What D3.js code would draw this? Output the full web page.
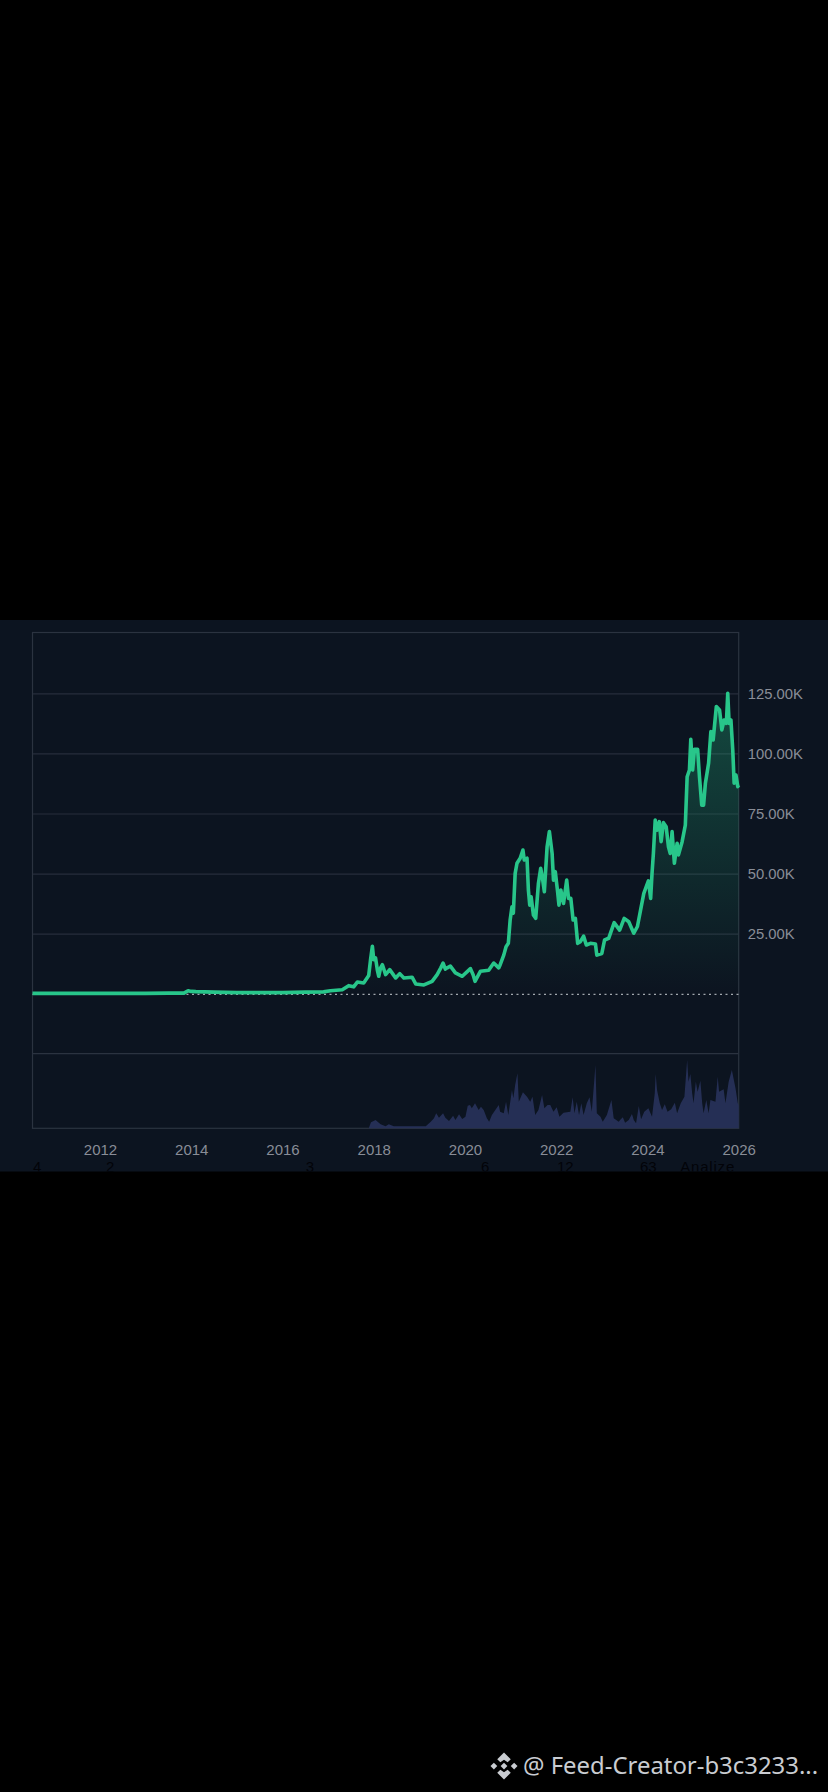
<!DOCTYPE html>
<html>
<head>
<meta charset="utf-8">
<script src="https://cdn.jsdelivr.net/npm/d3@7"></script>
<style>
html,body{margin:0;padding:0;background:#000;overflow:hidden}
svg{display:block}
</style>
</head>
<body>
<script>
const priceYears = [2010.52,2011.0,2011.45,2012.0,2013.0,2013.5,2013.84,2013.93,2014.0,2014.1,2014.5,2015.0,2015.5,2016.0,2016.5,2016.9,
2017.05,2017.31,2017.45,2017.56,2017.64,2017.78,2017.89,2017.93,2017.97,2018.0,2018.04,2018.08,2018.11,2018.15,2018.19,2018.26,2018.35,2018.42,2018.48,2018.57,2018.66,2018.84,2018.92,2019.10,2019.28,2019.39,2019.47,2019.52,2019.57,2019.61,2019.68,2019.79,2019.94,2020.12,2020.18,2020.22,2020.34,2020.52,2020.63,2020.74,
2020.77,2020.85,2020.90,2020.95,2020.99,2021.03,2021.06,2021.10,2021.14,2021.21,2021.27,2021.30,2021.36,2021.39,2021.42,2021.45,2021.50,2021.55,2021.61,2021.66,2021.70,2021.74,2021.80,2021.85,2021.91,2021.94,2021.98,2022.03,2022.06,2022.10,2022.16,2022.23,2022.27,2022.32,2022.37,2022.42,2022.47,2022.53,2022.60,2022.66,2022.75,2022.86,2022.89,2023.0,2023.06,2023.15,2023.27,2023.39,2023.49,2023.59,2023.70,2023.78,2023.85,2023.92,2024.02,2024.07,
2024.10,2024.13,2024.17,2024.21,2024.26,2024.30,2024.35,2024.41,2024.46,2024.50,2024.54,2024.59,2024.65,2024.68,2024.76,2024.83,2024.87,2024.92,2024.95,2024.99,2025.03,2025.10,2025.14,2025.19,2025.23,2025.27,2025.34,2025.39,2025.44,2025.51,2025.58,2025.63,2025.68,2025.73,2025.76,2025.79,2025.83,2025.87,2025.90,2025.94,2025.98,2026.0];
const priceValues = [0.4,0.4,0.4,0.4,0.4,0.5,0.5,1.5,1.2,1.1,0.9,0.7,0.7,0.7,0.9,1.0,
1.5,1.9,3.6,3.1,5.1,4.7,7.8,14.4,20,14.4,15.1,10,7.5,11,12.3,8.2,10.3,8.4,6.8,8.6,6.8,7.1,4.3,3.9,5.4,8.2,11,13,10.5,11,11.7,8.9,7.5,10.7,8,5.4,9.6,10,13,11,
12.2,16.3,19.8,21.2,30.9,36.4,33.7,50.3,54.5,56.6,60,55.9,56.6,43.4,37.1,40.6,33,31.6,46.2,52.4,48.2,42.7,61.4,67.7,58.6,47.5,51,42.7,37.1,43.4,37.8,47.5,39.9,39.9,30.9,31.6,21.2,21.9,24.2,20.5,21.2,20.9,16.3,17,22.6,23.3,29.8,26.7,31.6,30.2,25.4,28.2,35.1,42,47.2,39.9,
50.3,58.6,72.5,68.3,71.8,63.5,71.4,69.7,61.4,58.6,67.7,54.5,62.8,58,63.5,70.4,90.5,93.3,106.1,93.3,101.9,101.9,90.5,78.7,78.7,87.8,96.1,109.3,105.8,119.7,118.3,110,114.1,112.7,125.2,112.7,114.1,101.6,87.8,91.2,86.4,87];
const volumeYears = [2017.89,2017.94,2018.04,2018.15,2018.26,2018.33,2018.44,2018.59,2018.88,2019.14,2019.25,2019.32,2019.37,2019.43,2019.52,2019.57,2019.65,2019.74,2019.79,2019.87,2019.94,2020.01,2020.06,
2020.11,2020.15,2020.22,2020.30,2020.35,2020.41,2020.48,2020.53,2020.59,2020.74,2020.77,2020.85,2020.90,2020.95,2021.03,2021.06,2021.10,2021.15,2021.18,2021.27,2021.36,2021.43,2021.48,2021.54,2021.61,2021.69,2021.74,2021.81,2021.87,2021.94,2022.01,2022.07,2022.16,2022.31,2022.36,2022.40,2022.45,2022.50,2022.55,2022.60,2022.67,2022.73,2022.78,2022.86,2022.89,2022.97,2023.02,2023.11,2023.21,2023.26,2023.37,
2023.40,2023.46,2023.51,2023.59,2023.66,2023.70,2023.75,2023.81,2023.86,2023.93,2024.02,2024.10,2024.16,2024.18,2024.21,2024.27,2024.32,2024.38,2024.44,2024.52,2024.60,2024.65,2024.73,2024.81,2024.87,2024.90,2024.94,2024.98,2025.01,2025.06,2025.10,2025.16,2025.20,2025.23,2025.29,2025.34,2025.38,2025.49,2025.54,2025.57,2025.67,2025.71,2025.78,2025.85,2025.93,2025.98,2026.0];
const volumeValues = [0,18,25,12,6,12,6,6,6,6,20,30,45,32,45,32,22,38,25,42,28,35,68,
70,60,75,55,65,55,30,20,40,70,50,45,80,40,115,90,130,165,80,108,95,80,95,40,55,100,60,70,70,50,63,35,47,50,93,45,80,40,75,40,75,93,50,190,45,35,20,40,85,30,20,
25,33,17,25,43,25,15,67,27,50,60,35,105,163,115,75,55,72,50,57,77,45,75,95,205,140,163,105,75,140,110,143,75,45,85,45,85,80,155,110,117,75,140,175,120,75,70];
const yTickValues = [25,50,75,100,125];
const yTickLabels = ["25.00K","50.00K","75.00K","100.00K","125.00K"];
const xTickValues = [2012,2014,2016,2018,2020,2022,2024,2026];
const ghostLabels = ["4","2","3","6","12","63","Analize"];
const ghostYears = [2010.62,2012.22,2016.6,2020.44,2022.2,2024.02,2025.31];

const W=828,H=1792;
const L=32.5,R=738.7,T=632.5,B0=994.3,PB=1053.7,VB=1128.3;
const x=d3.scaleLinear().domain([2010.52,2026]).range([L,R]);
const y=d3.scaleLinear().domain([0,125]).range([B0,693.8]);
const v=d3.scaleLinear().domain([0,224]).range([VB,PB]);
const price=priceYears.map((t,i)=>({t,p:priceValues[i]}));
const vol=volumeYears.map((t,i)=>({t,q:volumeValues[i]}));

const svg=d3.select("body").append("svg").attr("width",W).attr("height",H);
svg.append("rect").attr("width",W).attr("height",H).attr("fill","#000");
svg.append("rect").attr("x",0).attr("y",620).attr("width",W).attr("height",551.5).attr("fill","#0c1420");

const defs=svg.append("defs");
const g=defs.append("linearGradient").attr("id","fillg").attr("gradientUnits","userSpaceOnUse")
 .attr("x1",0).attr("x2",0).attr("y1",y(125)).attr("y2",y(0));
g.append("stop").attr("offset",0).attr("stop-color","#26c98a").attr("stop-opacity",0.3);
g.append("stop").attr("offset",1).attr("stop-color","#26c98a").attr("stop-opacity",0);

const axisFont='"Liberation Sans",Arial,sans-serif';
const yAxis=d3.axisRight(y).tickValues(yTickValues).tickSize(0)
 .tickFormat((d,i)=>yTickLabels[i]).tickPadding(0);
const ya=svg.append("g").attr("transform",`translate(${R+9},0)`).call(yAxis);
ya.select(".domain").remove();
ya.selectAll("text").attr("fill","#898d97").attr("font-family",axisFont).attr("font-size",14.8);
svg.append("g").selectAll("line").data(yTickValues).join("line")
 .attr("x1",L).attr("x2",R).attr("y1",d=>y(d)).attr("y2",d=>y(d))
 .attr("stroke","#262d3b").attr("stroke-width",1.2);

const frame=svg.append("g").attr("fill","none").attr("stroke","#2b3340").attr("stroke-width",1.2);
frame.append("rect").attr("x",L).attr("y",T).attr("width",R-L).attr("height",VB-T);
svg.append("line").attr("x1",L).attr("x2",R).attr("y1",PB).attr("y2",PB).attr("stroke","#2b3340").attr("stroke-width",1.2);

svg.append("path").datum(price).attr("fill","url(#fillg)")
 .attr("d",d3.area().x(d=>x(d.t)).y0(y(0)).y1(d=>y(d.p)));
svg.append("line").attr("x1",L).attr("x2",R).attr("y1",y(0)).attr("y2",y(0))
 .attr("stroke","#c9ccd2").attr("stroke-width",1).attr("stroke-dasharray","2 3.5");
svg.append("path").datum(price).attr("fill","none").attr("stroke","#28c68a").attr("stroke-width",3.6)
 .attr("stroke-linejoin","round")
 .attr("d",d3.line().x(d=>x(d.t)).y(d=>y(d.p)));
svg.append("path").datum(vol).attr("fill","#252f55")
 .attr("d",d3.area().x(d=>x(d.t)).y0(v(0)).y1(d=>v(d.q)));

const xAxis=d3.axisBottom(x).tickValues(xTickValues).tickSize(0).tickFormat(d3.format("d")).tickPadding(0);
const xa=svg.append("g").attr("transform",`translate(0,1144)`).call(xAxis);
xa.select(".domain").remove();
xa.selectAll("text").attr("fill","#898d97").attr("font-family",axisFont).attr("font-size",15);

svg.append("clipPath").attr("id","cl").append("rect").attr("x",0).attr("y",1150).attr("width",W).attr("height",21.5);
svg.append("g").attr("clip-path","url(#cl)").selectAll("text").data(ghostLabels).join("text")
 .attr("x",(d,i)=>x(ghostYears[i])).attr("y",1172).attr("text-anchor","middle")
 .attr("font-family",axisFont).attr("font-size",15).attr("fill","#020308").text(d=>d)
 .filter(d=>d.length>2).attr("textLength",54);

const logo=svg.append("g").attr("transform","translate(504,1766)").attr("fill","#c9ccd1");
const s=13.5;
logo.append("path").attr("d",`M0 ${-s} L${s*.5} ${-s*.5} L${s*.27} ${-s*.27} L0 ${-s*.46} L${-s*.27} ${-s*.27} L${-s*.5} ${-s*.5} Z`);
logo.append("path").attr("d",`M0 ${s} L${s*.5} ${s*.5} L${s*.27} ${s*.27} L0 ${s*.46} L${-s*.27} ${s*.27} L${-s*.5} ${s*.5} Z`);
logo.append("path").attr("d",`M0 ${-s*.25} L${s*.25} 0 L0 ${s*.25} L${-s*.25} 0 Z`);
logo.append("path").attr("d",`M${-s} 0 L${-s*.75} ${-s*.25} L${-s*.5} 0 L${-s*.75} ${s*.25} Z`);
logo.append("path").attr("d",`M${s} 0 L${s*.75} ${-s*.25} L${s*.5} 0 L${s*.75} ${s*.25} Z`);
svg.append("text").attr("x",523).attr("y",1774).attr("fill","#c9ccd1")
 .attr("font-family",'"Noto Sans","Open Sans",sans-serif').attr("font-size",23.9).text("@ Feed-Creator-b3c3233...");
</script>
</body>
</html>
